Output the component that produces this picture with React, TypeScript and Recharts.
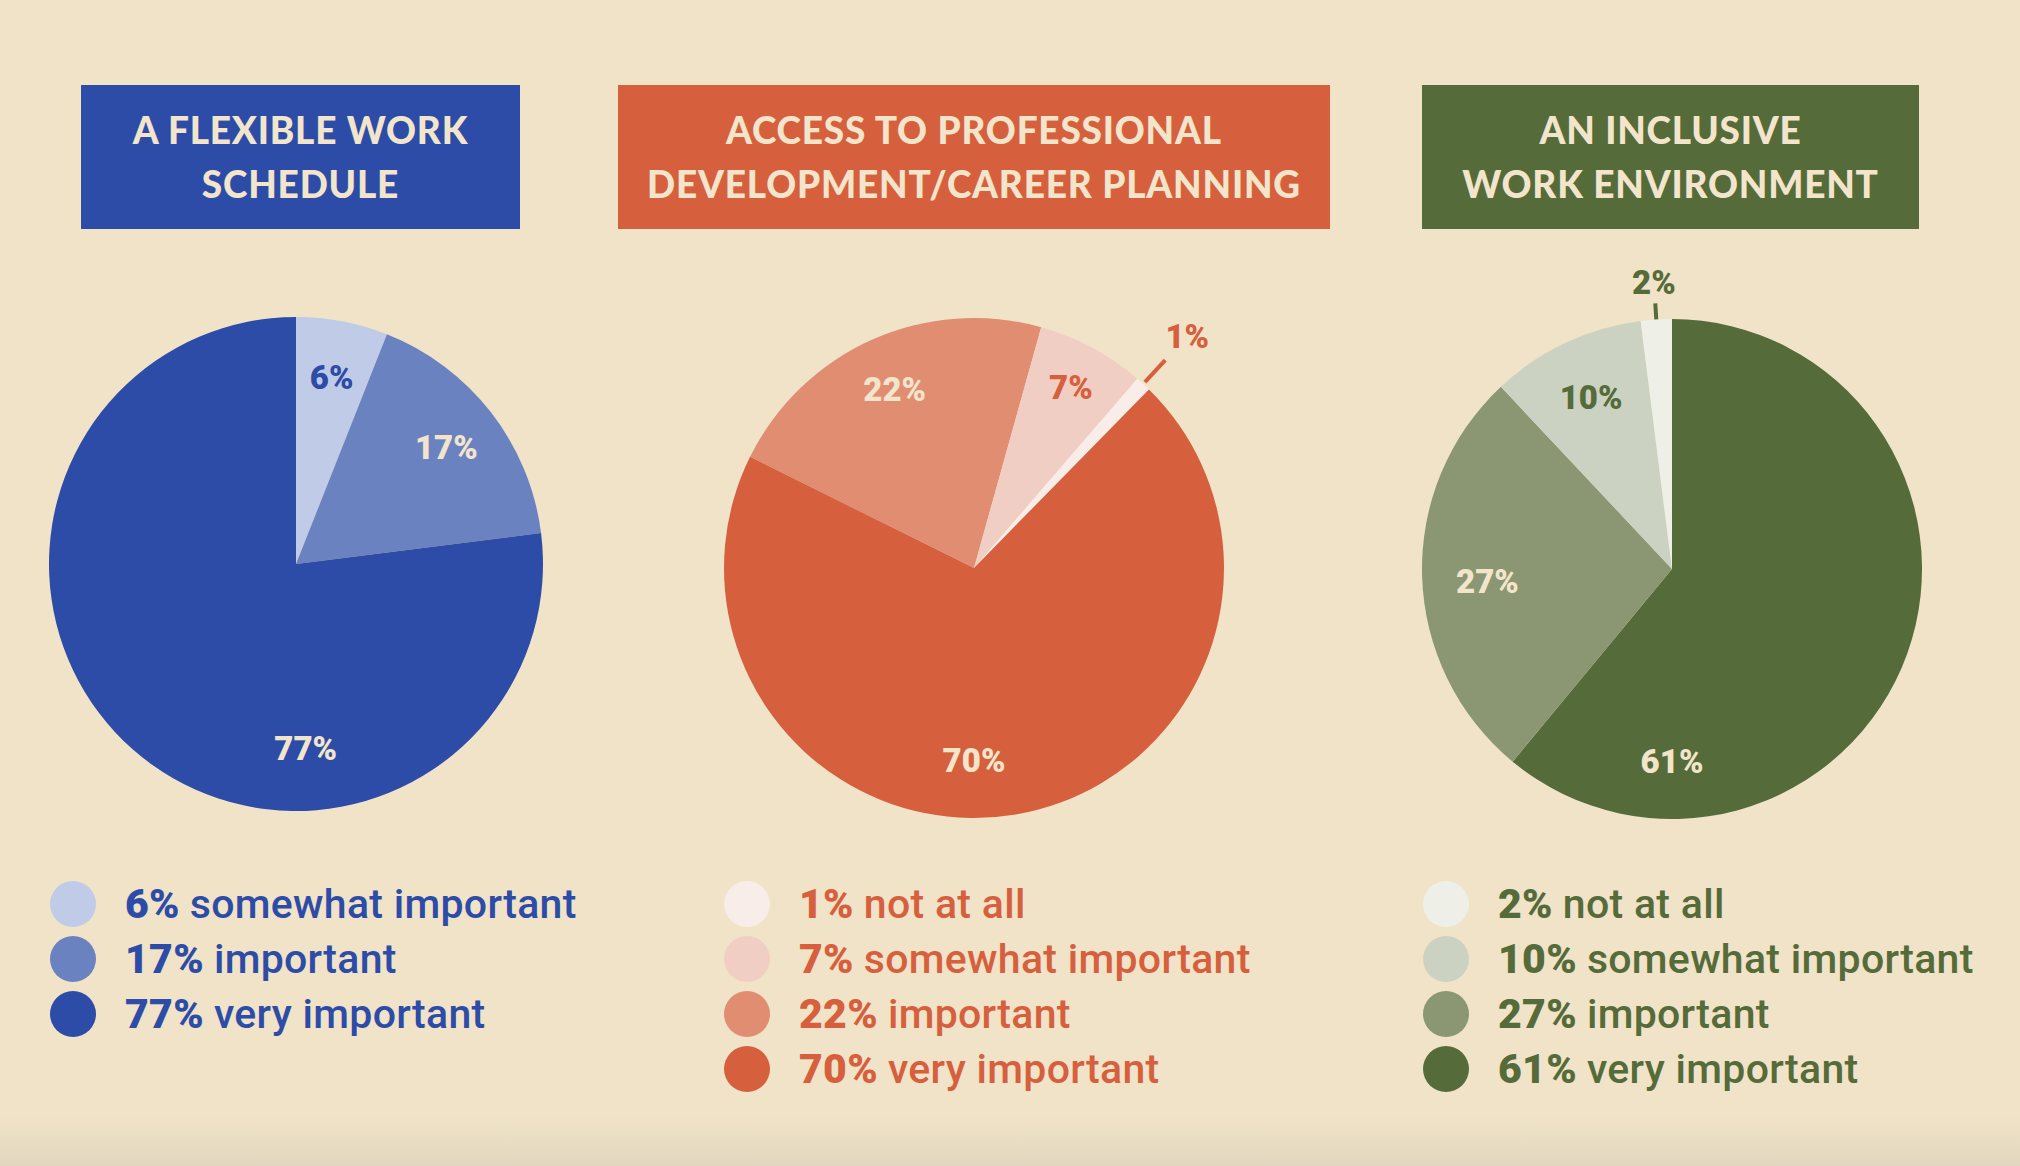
import { PieChart, Pie, Cell } from "recharts";

const flexibleLabels = ["somewhat important", "important", "very important"];
const flexibleValues = [6, 17, 77];

const careerLabels = ["important", "somewhat important", "not at all", "very important"];
const careerValues = [22, 7, 1, 70];
const careerLegendOrder = [2, 1, 0, 3];

const inclusiveLabels = ["very important", "important", "somewhat important", "not at all"];
const inclusiveValues = [61, 27, 10, 2];
const inclusiveLegendOrder = [3, 2, 1, 0];

const BG = "#F0E3C8";
const CREAM = "#F2E5CB";

type LabelStyle = { fill: string; r: number; angle?: number; outside?: [number, number] };

const charts = [
  {
    title: ["A FLEXIBLE WORK", "SCHEDULE"],
    main: "#2D4CA7",
    box: { left: 81, width: 439 },
    cx: 296, cy: 564, radius: 247,
    start: 90,
    labels: flexibleLabels,
    values: flexibleValues,
    order: [0, 1, 2],
    colors: ["#BFCBE7", "#6B82C0", "#2D4CA7"],
    labelStyles: [
      { fill: "#2D4CA7", r: 0.77 },
      { fill: CREAM, r: 0.77 },
      { fill: CREAM, r: 0.75, angle: 177 },
    ] as LabelStyle[],
    legendX: 50,
  },
  {
    title: ["ACCESS TO PROFESSIONAL", "DEVELOPMENT/CAREER PLANNING"],
    main: "#D6603D",
    box: { left: 618, width: 712 },
    cx: 974, cy: 568, radius: 250,
    start: 153.6,
    labels: careerLabels,
    values: careerValues,
    order: careerLegendOrder,
    colors: ["#E08D72", "#F1CEC3", "#F9EDE9", "#D6603D"],
    labelStyles: [
      { fill: CREAM, r: 0.78 },
      { fill: "#D6603D", r: 0.82 },
      { fill: "#D6603D", r: 1.26, outside: [1.01, 1.13] },
      { fill: CREAM, r: 0.77, angle: 180 },
    ] as LabelStyle[],
    legendX: 724,
  },
  {
    title: ["AN INCLUSIVE", "WORK ENVIRONMENT"],
    main: "#556B3A",
    box: { left: 1422, width: 497 },
    cx: 1672, cy: 569, radius: 250,
    start: 90,
    labels: inclusiveLabels,
    values: inclusiveValues,
    order: inclusiveLegendOrder,
    colors: ["#556B3A", "#8A9772", "#CBD2C1", "#EEF0E8"],
    labelStyles: [
      { fill: CREAM, r: 0.77, angle: 180 },
      { fill: CREAM, r: 0.74, angle: 266 },
      { fill: "#556B3A", r: 0.76 },
      { fill: "#556B3A", r: 1.15, outside: [1.0, 1.065] },
    ] as LabelStyle[],
    legendX: 1423,
  },
];

const RAD = Math.PI / 180;

function makeLabel(styles: LabelStyle[]) {
  return (props: any) => {
    const { cx, cy, midAngle, outerRadius, index, value } = props;
    const s = styles[index];
    const a = s.angle !== undefined ? 90 - s.angle : midAngle;
    const pt = (f: number) => ({
      x: cx + outerRadius * f * Math.cos(-a * RAD),
      y: cy + outerRadius * f * Math.sin(-a * RAD),
    });
    const p = pt(s.r);
    return (
      <g key={`l-${index}`}>
        {s.outside && (
          <line
            x1={pt(s.outside[0]).x}
            y1={pt(s.outside[0]).y}
            x2={pt(s.outside[1]).x}
            y2={pt(s.outside[1]).y}
            stroke={s.fill}
            strokeWidth={4}
          />
        )}
        <text
          x={p.x}
          y={p.y}
          fill={s.fill}
          textAnchor="middle"
          dominantBaseline="central"
          fontFamily="Roboto"
          fontWeight={900}
          fontSize={33}
        >
          {value}%
        </text>
      </g>
    );
  };
}

export default function App() {
  return (
    <div
      style={{
        position: "absolute",
        left: 0,
        top: 0,
        width: 2020,
        height: 1166,
        background: BG,
        overflow: "hidden",
      }}
    >
      <div
        style={{
          position: "absolute",
          left: 0,
          top: 1115,
          width: 2020,
          height: 51,
          background: "linear-gradient(#F0E3C800, #E2D7BE)",
        }}
      />
      {charts.map((c) => (
        <div
          key={c.title[0]}
          style={{
            position: "absolute",
            top: 85,
            left: c.box.left,
            width: c.box.width,
            height: 144,
            background: c.main,
            color: CREAM,
            fontFamily: "Lato",
            fontWeight: 900,
            fontSize: 37,
            lineHeight: "54px",
            letterSpacing: 0.8,
            textAlign: "center",
            display: "flex",
            flexDirection: "column",
            justifyContent: "center",
          }}
        >
          {c.title.map((t) => (
            <div key={t}>{t}</div>
          ))}
        </div>
      ))}
      <div style={{ position: "absolute", left: 0, top: 0 }}>
        <PieChart width={2020} height={1166} margin={{ top: 0, right: 0, bottom: 0, left: 0 }}>
          {charts.map((c) => (
            <Pie
              key={c.title[0]}
              data={c.values.map((v, i) => ({ name: c.labels[i], value: v }))}
              dataKey="value"
              cx={c.cx}
              cy={c.cy}
              outerRadius={c.radius}
              startAngle={c.start}
              endAngle={c.start - 360}
              stroke="none"
              labelLine={false}
              label={makeLabel(c.labelStyles)}
              isAnimationActive={false}
            >
              {c.values.map((_, i) => (
                <Cell key={i} fill={c.colors[i]} />
              ))}
            </Pie>
          ))}
        </PieChart>
      </div>
      {charts.map((c) => (
        <div
          key={`lg-${c.title[0]}`}
          style={{ position: "absolute", left: c.legendX, top: 876 }}
        >
          {c.order.map((i) => (
            <div
              key={i}
              style={{
                display: "flex",
                alignItems: "center",
                height: 55,
                fontFamily: "Roboto",
                fontSize: 41,
                letterSpacing: 0.3,
                color: c.main,
                whiteSpace: "nowrap",
              }}
            >
              <span
                style={{
                  display: "inline-block",
                  width: 46,
                  height: 46,
                  borderRadius: 23,
                  background: c.colors[i],
                  marginRight: 29,
                  flexShrink: 0,
                }}
              />
              <span style={{ fontWeight: 900, marginRight: 10 }}>{c.values[i]}%</span>
              <span style={{ fontWeight: 500 }}>{c.labels[i]}</span>
            </div>
          ))}
        </div>
      ))}
    </div>
  );
}
